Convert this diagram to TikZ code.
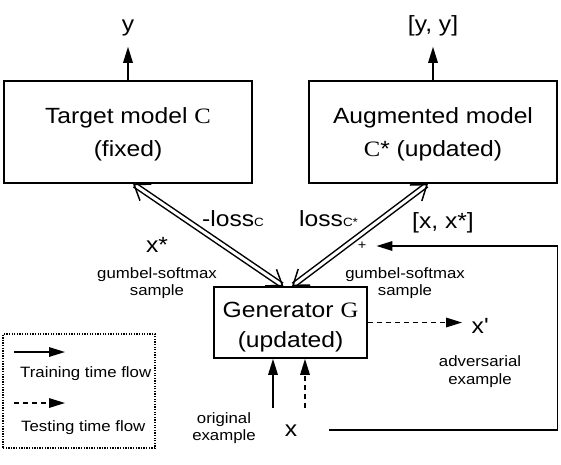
\documentclass[tikz,border=0pt]{standalone}
\usepackage{fontspec}
\setmainfont{Liberation Sans}[FakeStretch=1.12]
\newfontfamily\srf{Liberation Serif}[FakeStretch=1.12]
\usetikzlibrary{arrows.meta}
\tikzset{
  box/.style={draw, line width=1.6pt, inner sep=0pt, align=center},
  lbl/.style={inner sep=0pt, font=\fontsize{22}{26}\selectfont},
  sml/.style={inner sep=0pt, align=center, font=\fontsize{15}{17.5}\selectfont},
  arr/.style={line width=1.6pt, -{Triangle[length=16pt,width=9.5pt]}},
  darr/.style={arr, dash pattern=on 5pt off 4pt},
  dbl/.style={double, double distance=3pt, line width=1.5pt, {Straight Barb[length=14pt,width=20pt,line width=1.5pt]}-{Straight Barb[length=14pt,width=20pt,line width=1.5pt]}},
  legbox/.style={draw, line width=1.3pt, dash pattern=on 1.3pt off 1.3pt, inner sep=0pt},
}
\newcommand\subtxt[1]{\raisebox{-0.5pt}{\fontsize{12}{12}\selectfont #1}}
\begin{document}
\begin{tikzpicture}[x=1pt,y=-1pt]
\useasboundingbox (0,0) rectangle (561,464);
% boxes
\node[box, font=\fontsize{22}{33}\selectfont, minimum width=248pt, minimum height=102pt] (T) at (128,132) {\rule{0pt}{19.6pt}Target model {\srf C}\\(fixed)};
\node[box, font=\fontsize{22}{33}\selectfont, minimum width=248pt, minimum height=102pt] (A) at (433,132) {\rule{0pt}{19.6pt}Augmented model\\{\srf C}* (updated)};
\node[box, font=\fontsize{22}{29.5}\selectfont, minimum width=153pt, minimum height=71pt] (G) at (290.5,322.5) {\rule{0pt}{25pt}Generator {\srf G}\\(updated)};
% outputs
\node[lbl, anchor=base] (y) at (128,31) {y};
\node[lbl, anchor=base] (yy) at (433,31) {[y, y]};
\draw[arr, shorten >=11pt] (T.north) -- (y.south);
\draw[arr, shorten >=11pt] (A.north) -- (yy.south);
% double connectors
\draw[dbl] ([xshift=5pt]T.south) -- ([xshift=-7pt]G.north);
\draw[dbl] ([xshift=-5pt]A.south) -- ([xshift=1.5pt]G.north);
% labels
\node[lbl, anchor=base west] (lc) at (202,226) {-loss\subtxt{C}};
\node[lbl, anchor=base west] (lca) at (299,226) {loss\subtxt{C*}};
\node[lbl, anchor=base west] (xxs) at (412,228) {[x, x*]};
\node[lbl, anchor=base] (xst) at (157,252) {x*};
\node[sml] (gl) at (157,283) {gumbel-softmax\\sample};
\node[sml] (gr) at (405,283) {gumbel-softmax\\sample};
\node[inner sep=0pt, font=\fontsize{13}{13}\selectfont] (plus) at (362,246) {+};
% input
\node[lbl, anchor=base] (x) at (291,436) {x};
\node[sml] (orig) at (224,428) {original\\example};
\coordinate (s1) at (273,408);
\coordinate (s2) at (305,408);
\draw[arr] (s1) -- (s1 |- G.south);
\draw[darr] (s2) -- (s2 |- G.south);
\draw[arr] ([xshift=32pt]x.east) -- ++(228,0) |- ([xshift=10pt]plus.east);
% output adversarial
\node[lbl, anchor=base] (xp) at (480,333) {x\textquotesingle};
\node[sml] (adv) at (480,371.5) {adversarial\\example};
\draw[darr, shorten >=9.5pt] (G.east) -- (G.east -| xp.west);
% legend
\node[legbox, minimum width=152pt, minimum height=114pt] (leg) at (79,391) {};
\coordinate (t1) at (14,352);
\coordinate (t2) at (65,352);
\draw[arr] (t1) -- (t2);
\node[sml, anchor=base west] (tl) at (20,377) {Training time flow};
\coordinate (d1) at (14,403);
\coordinate (d2) at (65,403);
\draw[darr] (d1) -- (d2);
\node[sml, anchor=base west] (dl) at (21,431) {Testing time flow};
\end{tikzpicture}
\end{document}
